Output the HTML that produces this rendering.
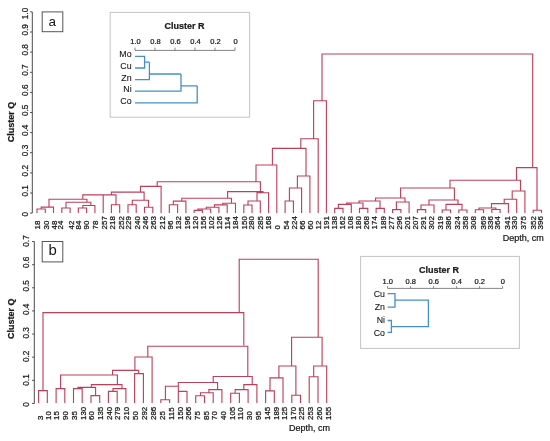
<!DOCTYPE html>
<html><head><meta charset="utf-8"><title>Cluster dendrograms</title>
<style>
html,body{margin:0;padding:0;background:#fff}
svg{display:block}
text{font-family:"Liberation Sans",Arial,sans-serif;fill:#161616;stroke:#161616;stroke-width:0.22px}
.tk text{font-size:8.2px}
.tki text{font-size:7.5px}
.lf text{font-size:7.9px;stroke-width:0.25px}
.ttl{font-size:9px;font-weight:bold;fill:#1a1a1a}
.dp{font-size:9px}
.pl{font-size:13.5px;stroke-width:0}
.el text{font-size:8.8px;stroke-width:0.1px}
</style></head><body>
<svg width="550" height="441" viewBox="0 0 550 441">
<rect width="550" height="441" fill="#fff"/>
<g fill="none" stroke="#bd3f59" stroke-width="1.12" stroke-linejoin="miter">
<path d="M37.0 213.0V209.0H45.3V213.0M41.2 209.0V207.1H53.5V213.0M61.8 213.0V208.0H70.1V213.0M78.3 213.0V208.0H86.6V213.0M82.8 208.0V205.5H94.9V213.0M66.0 208.0V202.3H90.8V205.5M49.0 207.1V199.3H86.9V202.3M82.8 199.3V194.9H116.0V204.7M103.2 213.0V194.9M111.4 213.0V204.7H119.7V213.0M111.4 194.9V192.1H144.1V200.3M128.0 213.0V204.7H136.2V213.0M144.5 213.0V207.3H152.8V213.0M132.3 204.7V200.3H148.5V207.3M140.5 192.1V186.4H161.1V213.0M157.2 186.4V181.8H260.4V191.6M169.3 213.0V204.7H177.6V213.0M173.3 204.7V201.1H185.9V213.0M181.8 201.1V198.2H231.5V203.2M194.1 213.0V210.4H202.4V213.0M198.0 210.4V209.0H210.7V213.0M206.3 209.0V207.3H218.9V213.0M214.5 207.3V204.9H227.2V213.0M222.7 204.9V203.2H235.5V213.0M243.8 213.0V205.0H252.0V213.0M248.0 205.0V201.0H260.3V213.0M257.0 201.0V192.8H268.6V213.0M227.6 198.2V191.6H263.0V192.8M256.0 181.8V165.0H276.8V213.0M272.4 165.0V148.4H306.0V176.0M285.1 213.0V201.0H293.4V213.0M289.4 201.0V188.0H301.6V213.0M297.4 188.0V176.0H309.9V213.0M300.8 148.4V138.8H318.2V213.0M313.6 138.8V100.7H326.4V213.0M322.0 100.7V54.0H532.7V167.6M334.7 213.0V208.4H343.0V213.0M338.4 208.4V204.4H351.3V213.0M359.5 213.0V208.4H367.8V213.0M346.6 204.4V203.0H363.0V208.4M376.1 213.0V208.4H384.3V213.0M359.0 203.0V201.0H380.0V208.4M392.6 213.0V209.6H400.9V213.0M396.4 209.6V202.0H409.1V213.0M375.6 201.0V198.0H405.0V202.0M400.6 198.0V188.0H454.4V200.0M417.4 213.0V209.6H425.7V213.0M421.0 209.6V205.0H434.0V213.0M442.2 213.0V210.0H450.5V213.0M458.8 213.0V210.0H467.0V213.0M446.0 210.0V204.4H462.0V210.0M429.0 205.0V200.0H458.0V204.4M450.0 188.0V180.2H520.5V191.0M475.3 213.0V209.7H483.6V213.0M491.8 213.0V209.5H500.1V213.0M479.0 209.7V208.0H495.9V209.5M491.5 208.0V203.6H508.4V213.0M504.2 203.6V199.3H516.7V213.0M512.2 199.3V191.0H524.9V213.0M516.5 180.2V167.6H537.0V210.2M533.2 213.0V210.2H541.5V213.0"/>
<path d="M38.6 403.0V390.6H47.3V403.0M43.0 390.6V312.6H243.8V345.6M56.1 403.0V388.6H64.8V403.0M60.6 388.6V375.0H117.4V384.6M73.5 403.0V388.6H82.2V403.0M91.0 403.0V395.6H99.7V403.0M78.0 388.6V387.4H95.6V395.6M91.4 387.4V384.6H122.0V388.6M108.4 403.0V391.4H117.2V403.0M113.0 391.4V388.6H125.9V403.0M112.6 375.0V370.4H138.7V373.6M134.6 403.0V373.6H143.4V403.0M134.9 370.4V357.0H152.1V403.0M147.8 357.0V346.2H247.8V376.7M160.8 403.0V399.8H169.6V403.0M165.4 399.8V386.3H178.3V403.0M178.3 403.0V391.4H187.0V403.0M178.3 386.3V382.5H217.6V389.6M195.7 403.0V395.8H204.5V403.0M200.5 395.8V392.7H213.2V403.0M208.9 392.7V389.6H221.9V403.0M213.2 382.5V376.5H252.2V384.6M230.7 403.0V393.2H239.4V403.0M235.1 393.2V389.6H248.1V403.0M243.8 389.6V384.6H256.9V403.0M239.2 312.6V259.2H318.2V337.2M265.6 403.0V390.9H274.3V403.0M270.0 390.9V377.9H283.0V403.0M278.9 377.9V366.0H295.9V395.2M291.8 403.0V395.2H300.5V403.0M291.6 366.0V337.2H322.1V366.0M309.2 403.0V376.7H318.0V403.0M313.7 376.7V366.0H326.7V403.0"/>
</g>
<g stroke="#4a4a4a" stroke-width="1" fill="none">
<path d="M32.3 11.9V213.1M30.1 213.1H32.3M30.1 193.0H32.3M30.1 172.9H32.3M30.1 152.7H32.3M30.1 132.6H32.3M30.1 112.5H32.3M30.1 92.4H32.3M30.1 72.3H32.3M30.1 52.1H32.3M30.1 32.0H32.3M30.1 11.9H32.3"/></g>
<g class="tk">
<text transform="translate(27.5 214.1) rotate(-90)" text-anchor="middle">0</text>
<text transform="translate(27.5 190.8) rotate(-90)" text-anchor="middle">0.1</text>
<text transform="translate(27.5 170.7) rotate(-90)" text-anchor="middle">0.2</text>
<text transform="translate(27.5 150.5) rotate(-90)" text-anchor="middle">0.3</text>
<text transform="translate(27.5 130.4) rotate(-90)" text-anchor="middle">0.4</text>
<text transform="translate(27.5 110.3) rotate(-90)" text-anchor="middle">0.5</text>
<text transform="translate(27.5 90.2) rotate(-90)" text-anchor="middle">0.6</text>
<text transform="translate(27.5 70.1) rotate(-90)" text-anchor="middle">0.7</text>
<text transform="translate(27.5 49.9) rotate(-90)" text-anchor="middle">0.8</text>
<text transform="translate(27.5 29.8) rotate(-90)" text-anchor="middle">0.9</text>
<text transform="translate(27.5 13.5) rotate(-90)" text-anchor="middle">1.0</text>
</g>
<g stroke="#4a4a4a" stroke-width="1" fill="none">
<path d="M34.3 241.5V403.5M32.1 403.5H34.3M32.1 380.4H34.3M32.1 357.2H34.3M32.1 334.1H34.3M32.1 310.9H34.3M32.1 287.8H34.3M32.1 264.7H34.3M32.1 241.5H34.3"/></g>
<g class="tk">
<text transform="translate(29.4 404.5) rotate(-90)" text-anchor="middle">0</text>
<text transform="translate(29.4 380.0) rotate(-90)" text-anchor="middle">0.1</text>
<text transform="translate(29.4 356.4) rotate(-90)" text-anchor="middle">0.2</text>
<text transform="translate(29.4 332.9) rotate(-90)" text-anchor="middle">0.3</text>
<text transform="translate(29.4 309.3) rotate(-90)" text-anchor="middle">0.4</text>
<text transform="translate(29.4 285.8) rotate(-90)" text-anchor="middle">0.5</text>
<text transform="translate(29.4 262.3) rotate(-90)" text-anchor="middle">0.6</text>
<text transform="translate(29.4 241.0) rotate(-90)" text-anchor="middle">0.7</text>
</g>
<text class="ttl" transform="translate(13.9 122) rotate(-90)" text-anchor="middle">Cluster Q</text>
<text class="ttl" transform="translate(13.9 318.7) rotate(-90)" text-anchor="middle">Cluster Q</text>
<g class="lf">
<text transform="translate(39.5 229.4) rotate(-90)">18</text>
<text transform="translate(49.2 229.4) rotate(-90)">30</text>
<text transform="translate(56.5 229.4) rotate(-90)">48</text>
<text transform="translate(62.9 229.4) rotate(-90)">24</text>
<text transform="translate(74.4 229.4) rotate(-90)">42</text>
<text transform="translate(80.8 229.4) rotate(-90)">84</text>
<text transform="translate(88.8 229.4) rotate(-90)">90</text>
<text transform="translate(97.8 229.4) rotate(-90)">78</text>
<text transform="translate(107.2 229.4) rotate(-90)">257</text>
<text transform="translate(114.8 229.4) rotate(-90)">218</text>
<text transform="translate(123.8 229.4) rotate(-90)">252</text>
<text transform="translate(130.8 229.4) rotate(-90)">229</text>
<text transform="translate(139.7 229.4) rotate(-90)">240</text>
<text transform="translate(148.4 229.4) rotate(-90)">246</text>
<text transform="translate(156.4 229.4) rotate(-90)">263</text>
<text transform="translate(164.8 229.4) rotate(-90)">212</text>
<text transform="translate(173.4 229.4) rotate(-90)">96</text>
<text transform="translate(180.8 229.4) rotate(-90)">132</text>
<text transform="translate(189.8 229.4) rotate(-90)">196</text>
<text transform="translate(197.8 229.4) rotate(-90)">120</text>
<text transform="translate(205.8 229.4) rotate(-90)">156</text>
<text transform="translate(213.8 229.4) rotate(-90)">102</text>
<text transform="translate(221.8 229.4) rotate(-90)">126</text>
<text transform="translate(229.8 229.4) rotate(-90)">114</text>
<text transform="translate(238.2 229.4) rotate(-90)">184</text>
<text transform="translate(246.8 229.4) rotate(-90)">150</text>
<text transform="translate(254.4 229.4) rotate(-90)">280</text>
<text transform="translate(262.9 229.4) rotate(-90)">285</text>
<text transform="translate(271.2 229.4) rotate(-90)">168</text>
<text transform="translate(279.9 229.4) rotate(-90)">0</text>
<text transform="translate(288.5 229.4) rotate(-90)">54</text>
<text transform="translate(296.9 229.4) rotate(-90)">224</text>
<text transform="translate(304.9 229.4) rotate(-90)">66</text>
<text transform="translate(312.9 229.4) rotate(-90)">60</text>
<text transform="translate(320.9 229.4) rotate(-90)">12</text>
<text transform="translate(328.5 229.4) rotate(-90)">191</text>
<text transform="translate(337.1 229.4) rotate(-90)">138</text>
<text transform="translate(344.9 229.4) rotate(-90)">162</text>
<text transform="translate(352.9 229.4) rotate(-90)">108</text>
<text transform="translate(360.9 229.4) rotate(-90)">180</text>
<text transform="translate(369.2 229.4) rotate(-90)">268</text>
<text transform="translate(376.8 229.4) rotate(-90)">174</text>
<text transform="translate(385.5 229.4) rotate(-90)">189</text>
<text transform="translate(393.7 229.4) rotate(-90)">277</text>
<text transform="translate(401.7 229.4) rotate(-90)">296</text>
<text transform="translate(409.9 229.4) rotate(-90)">201</text>
<text transform="translate(417.9 229.4) rotate(-90)">207</text>
<text transform="translate(425.8 229.4) rotate(-90)">291</text>
<text transform="translate(434.4 229.4) rotate(-90)">302</text>
<text transform="translate(442.9 229.4) rotate(-90)">319</text>
<text transform="translate(451.1 229.4) rotate(-90)">386</text>
<text transform="translate(460.0 229.4) rotate(-90)">324</text>
<text transform="translate(467.9 229.4) rotate(-90)">358</text>
<text transform="translate(475.9 229.4) rotate(-90)">308</text>
<text transform="translate(485.7 229.4) rotate(-90)">369</text>
<text transform="translate(492.6 229.4) rotate(-90)">336</text>
<text transform="translate(500.2 229.4) rotate(-90)">364</text>
<text transform="translate(510.2 229.4) rotate(-90)">341</text>
<text transform="translate(517.2 229.4) rotate(-90)">330</text>
<text transform="translate(525.5 229.4) rotate(-90)">375</text>
<text transform="translate(536.4 229.4) rotate(-90)">352</text>
<text transform="translate(543.4 229.4) rotate(-90)">396</text>
<text transform="translate(43.1 420.0) rotate(-90)">3</text>
<text transform="translate(50.6 420.0) rotate(-90)">10</text>
<text transform="translate(59.0 420.0) rotate(-90)">15</text>
<text transform="translate(67.8 420.0) rotate(-90)">90</text>
<text transform="translate(76.8 420.0) rotate(-90)">35</text>
<text transform="translate(85.6 420.0) rotate(-90)">130</text>
<text transform="translate(93.9 420.0) rotate(-90)">60</text>
<text transform="translate(102.8 420.0) rotate(-90)">135</text>
<text transform="translate(111.5 420.0) rotate(-90)">240</text>
<text transform="translate(120.1 420.0) rotate(-90)">279</text>
<text transform="translate(129.1 420.0) rotate(-90)">210</text>
<text transform="translate(137.9 420.0) rotate(-90)">50</text>
<text transform="translate(146.8 420.0) rotate(-90)">292</text>
<text transform="translate(155.8 420.0) rotate(-90)">286</text>
<text transform="translate(164.8 420.0) rotate(-90)">25</text>
<text transform="translate(174.0 420.0) rotate(-90)">115</text>
<text transform="translate(182.5 420.0) rotate(-90)">150</text>
<text transform="translate(191.2 420.0) rotate(-90)">266</text>
<text transform="translate(199.8 420.0) rotate(-90)">75</text>
<text transform="translate(208.7 420.0) rotate(-90)">85</text>
<text transform="translate(217.3 420.0) rotate(-90)">70</text>
<text transform="translate(226.2 420.0) rotate(-90)">40</text>
<text transform="translate(234.8 420.0) rotate(-90)">105</text>
<text transform="translate(243.2 420.0) rotate(-90)">110</text>
<text transform="translate(252.2 420.0) rotate(-90)">30</text>
<text transform="translate(261.0 420.0) rotate(-90)">95</text>
<text transform="translate(269.9 420.0) rotate(-90)">145</text>
<text transform="translate(278.6 420.0) rotate(-90)">189</text>
<text transform="translate(287.1 420.0) rotate(-90)">125</text>
<text transform="translate(295.8 420.0) rotate(-90)">170</text>
<text transform="translate(304.2 420.0) rotate(-90)">225</text>
<text transform="translate(312.8 420.0) rotate(-90)">253</text>
<text transform="translate(321.7 420.0) rotate(-90)">260</text>
<text transform="translate(330.6 420.0) rotate(-90)">155</text>
</g>
<text class="dp" x="502.7" y="240.7">Depth, cm</text>
<text class="dp" x="289" y="431.4">Depth, cm</text>
<rect x="42.2" y="11.9" width="20.6" height="19.8" fill="#fff" stroke="#555" stroke-width="1"/>
<text class="pl" x="52.3" y="26" text-anchor="middle">a</text>
<rect x="42.2" y="241.5" width="20.6" height="20.4" fill="#fff" stroke="#555" stroke-width="1"/>
<text class="pl" style="font-size:14.9px" x="52.6" y="255.1" text-anchor="middle">b</text>
<rect x="110.2" y="12.4" width="139.4" height="104.8" fill="#fff" stroke="#c4c4c4" stroke-width="1"/>
<text class="ttl" x="184.5" y="29" text-anchor="middle">Cluster R</text>
<path d="M135 47.6V50.4H235V47.6M155 47.6V50.4M175 47.6V50.4M195 47.6V50.4M215 47.6V50.4" fill="none" stroke="#666" stroke-width="0.8"/>
<g class="tki">
<text x="135.5" y="44.4" text-anchor="middle">1.0</text>
<text x="155.5" y="44.4" text-anchor="middle">0.8</text>
<text x="175.5" y="44.4" text-anchor="middle">0.6</text>
<text x="195.5" y="44.4" text-anchor="middle">0.4</text>
<text x="215.5" y="44.4" text-anchor="middle">0.2</text>
<text x="235.5" y="44.4" text-anchor="middle">0</text>
</g>
<g class="el" text-anchor="end">
<text x="131.6" y="57.4">Mo</text>
<text x="131.6" y="69.0">Cu</text>
<text x="131.6" y="80.7">Zn</text>
<text x="131.6" y="92.3">Ni</text>
<text x="131.6" y="104.0">Co</text>
</g>
<path d="M135 56.4H144.6V68H135M144.6 62.2H149.4M135 79.6H149.4V62.2M149.4 74H181M135 91.2H181V74M181 85.8H197.2M135 102.8H197.2V85.8" fill="none" stroke="#4590c6" stroke-width="1.3"/>
<rect x="360.6" y="256.4" width="158.8" height="92" fill="#fff" stroke="#c4c4c4" stroke-width="1"/>
<text class="ttl" x="439" y="273.4" text-anchor="middle">Cluster R</text>
<path d="M387.6 286.2V288.4H502.6V286.2M410.6 286.2V288.4M433.6 286.2V288.4M456.6 286.2V288.4M479.6 286.2V288.4" fill="none" stroke="#666" stroke-width="0.8"/>
<g class="tki">
<text x="387.8" y="284.4" text-anchor="middle">1.0</text>
<text x="410.8" y="284.4" text-anchor="middle">0.8</text>
<text x="433.8" y="284.4" text-anchor="middle">0.6</text>
<text x="456.8" y="284.4" text-anchor="middle">0.4</text>
<text x="479.8" y="284.4" text-anchor="middle">0.2</text>
<text x="502.8" y="284.4" text-anchor="middle">0</text>
</g>
<g class="el" text-anchor="end">
<text x="385" y="296.8">Cu</text>
<text x="385" y="309.8">Zn</text>
<text x="385" y="322.8">Ni</text>
<text x="385" y="335.8">Co</text>
</g>
<path d="M387.6 293.6H395V307.1H387.6M395 300.2H428.4V326.6H391.4M387.6 320.5H391.4V332.3H387.6" fill="none" stroke="#4590c6" stroke-width="1.3"/>
</svg>
</body></html>
